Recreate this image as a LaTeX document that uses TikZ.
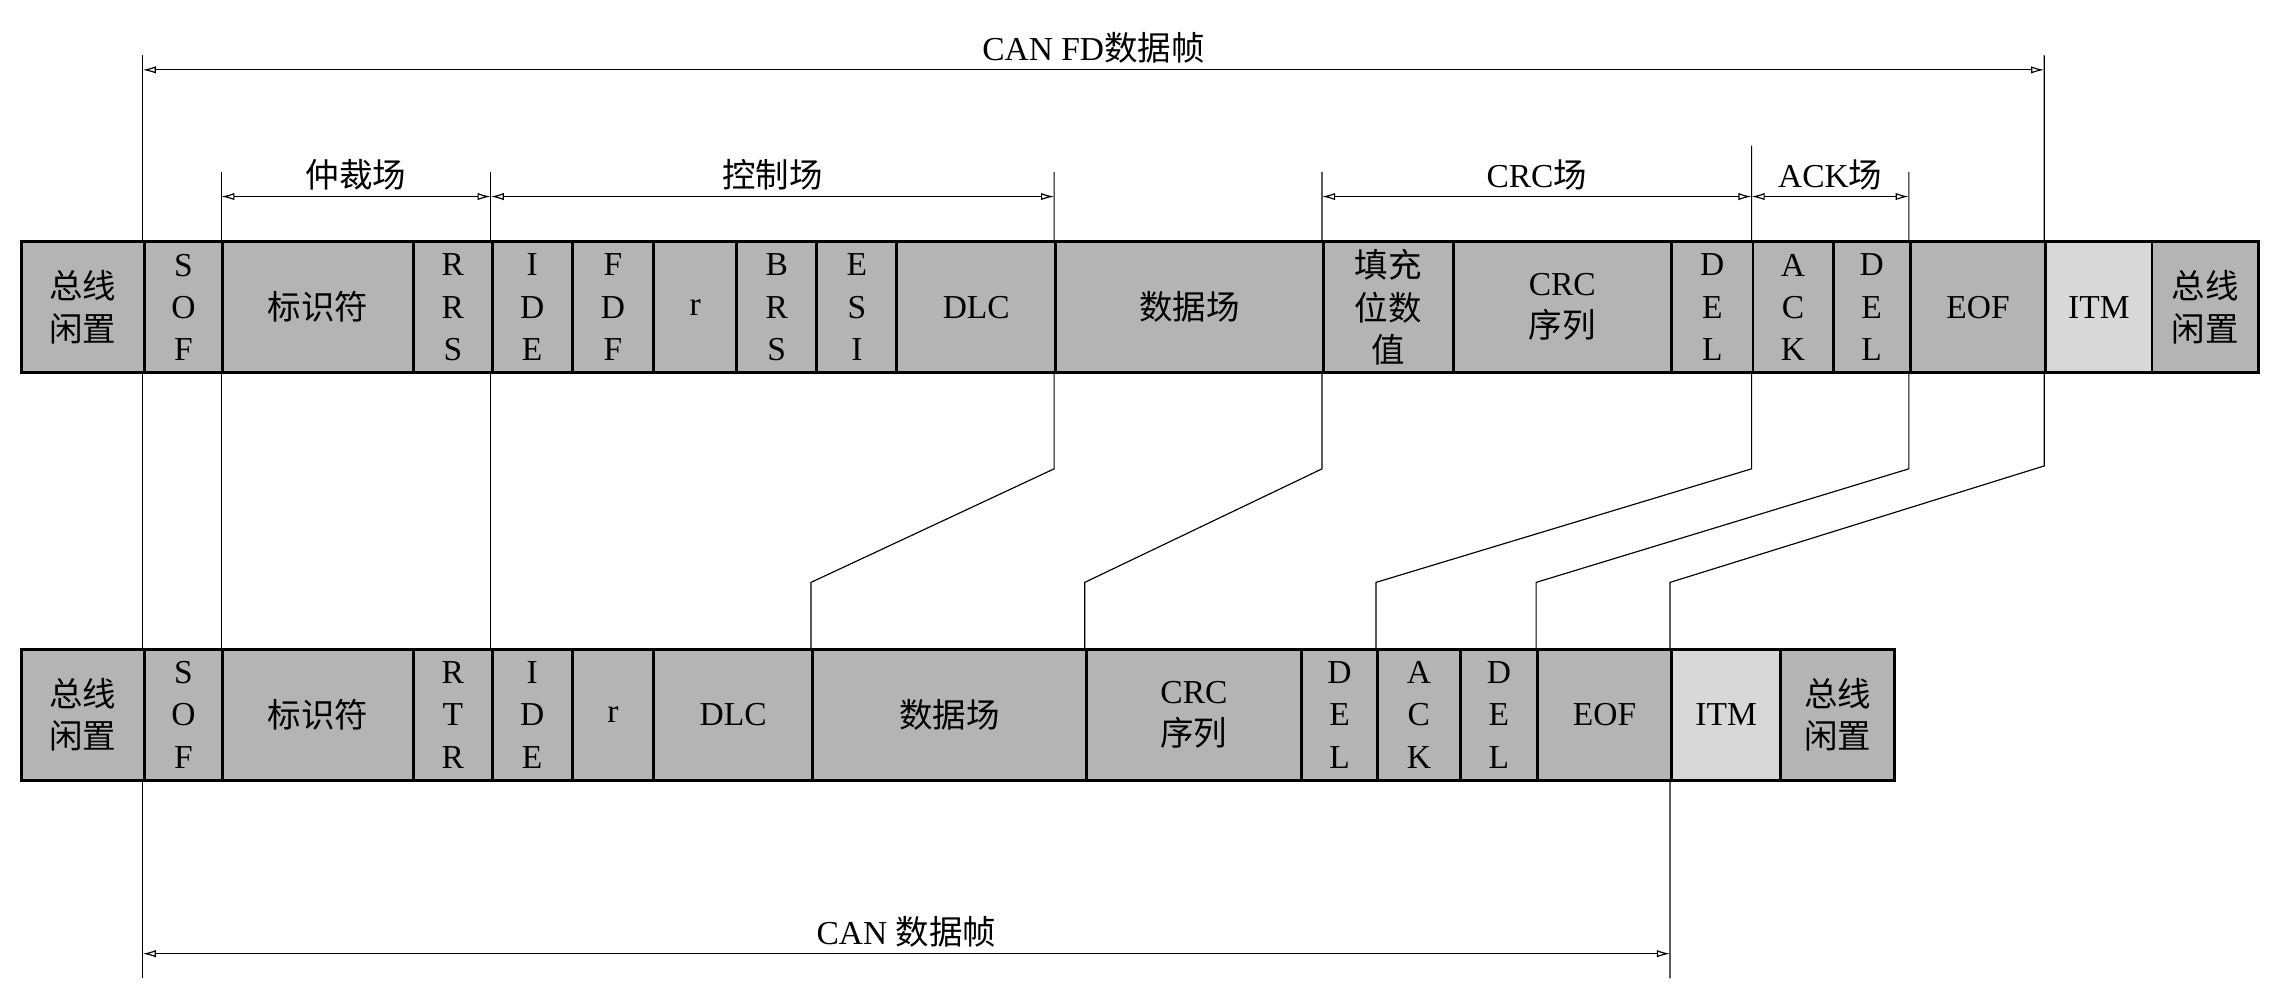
\documentclass[tikz,border=0pt]{standalone}
\usepackage{fontspec}
\setmainfont{Liberation Serif}
\newfontfamily\cjk{Noto Sans CJK SC}
\usetikzlibrary{arrows.meta}
\definecolor{cellgray}{HTML}{B4B4B4}
\definecolor{itmgray}{HTML}{D8D8D8}
\tikzset{
 cellbox/.style={draw=black,line width=2pt,minimum height=90pt,inner sep=0pt,align=center,font=\fontsize{23}{29}\selectfont},
 thin line/.style={line width=0.8pt},
 dim/.style={line width=0.8pt,{Latex[length=9pt,width=5pt,open]}-{Latex[length=9pt,width=5pt,open]}},
 lbl/.style={font=\fontsize{23}{28}\selectfont,inner sep=1pt}
}
\newcommand\mycell[6]{\node[cellbox,fill=#6,minimum width={(#3-#2)*1pt},anchor=north west] (#1) at (#2,#4) {#5};}
\begin{document}
\begin{tikzpicture}[x=1pt,y=-1pt]
\useasboundingbox[fill=white] (0,0) rectangle (1568,676);
% guide coordinates
\coordinate (t98) at (98,38); \coordinate (b98) at (98,672);
\coordinate (t1404) at (1404,38); \coordinate (k1404) at (1404,320); \coordinate (m1147) at (1147,400); \coordinate (b1147) at (1147,672);
\coordinate (t152) at (152,118); \coordinate (b152) at (152,445);
\coordinate (t337) at (337,118); \coordinate (b337) at (337,445);
\coordinate (t724) at (724,118); \coordinate (k724) at (724,322); \coordinate (m557) at (557,400); \coordinate (b557) at (557,445);
\coordinate (t908) at (908,118); \coordinate (k908) at (908,322); \coordinate (m745) at (745,400); \coordinate (b745) at (745,445);
\coordinate (t1203) at (1203,100); \coordinate (k1203) at (1203,322); \coordinate (m945) at (945,400); \coordinate (b945) at (945,445);
\coordinate (t1311) at (1311,118); \coordinate (k1311) at (1311,322); \coordinate (m1055) at (1055,400); \coordinate (b1055) at (1055,445);
\draw[thin line] (t98)--(b98);
\draw[thin line] (t1404)--(k1404)--(m1147)--(b1147);
\draw[thin line] (t152)--(b152);
\draw[thin line] (t337)--(b337);
\draw[thin line] (t724)--(k724)--(m557)--(b557);
\draw[thin line] (t908)--(k908)--(m745)--(b745);
\draw[thin line] (t1203)--(k1203)--(m945)--(b945);
\draw[thin line] (t1311)--(k1311)--(m1055)--(b1055);
% dimension arrows
\coordinate (a1) at (98,48); \coordinate (a2) at (1404,48);
\draw[dim] (a1)--(a2) node[lbl,midway,above=3pt] {CAN FD{\cjk 数据帧}};
\coordinate (c1) at (152,135); \coordinate (c2) at (337,135);
\draw[dim] (c1)--(c2) node[lbl,midway,above=3pt] {\cjk 仲裁场};
\coordinate (d1) at (337,135); \coordinate (d2) at (724,135);
\draw[dim] (d1)--(d2) node[lbl,midway,above=3pt] {\cjk 控制场};
\coordinate (e1) at (908,135); \coordinate (e2) at (1203,135);
\draw[dim] (e1)--(e2) node[lbl,midway,above=3pt] {CRC{\cjk 场}};
\coordinate (f1) at (1203,135); \coordinate (f2) at (1311,135);
\draw[dim] (f1)--(f2) node[lbl,midway,above=3pt] {ACK{\cjk 场}};
\coordinate (g1) at (98,655); \coordinate (g2) at (1147,655);
\draw[dim] (g1)--(g2) node[lbl,midway,above=3pt] {CAN {\cjk 数据帧}};
% top row
\mycell{a01}{14}{98}{165}{\cjk 总线\\\cjk 闲置}{cellgray}
\mycell{a02}{98}{152}{165}{S\\O\\F}{cellgray}
\mycell{a03}{152}{283}{165}{\cjk 标识符}{cellgray}
\mycell{a04}{283}{337}{165}{R\\R\\S}{cellgray}
\mycell{a05}{337}{392}{165}{I\\D\\E}{cellgray}
\mycell{a06}{392}{448}{165}{F\\D\\F}{cellgray}
\mycell{a07}{448}{505}{165}{r}{cellgray}
\mycell{a08}{505}{560}{165}{B\\R\\S}{cellgray}
\mycell{a09}{560}{615}{165}{E\\S\\I}{cellgray}
\mycell{a10}{615}{724}{165}{DLC}{cellgray}
\mycell{a11}{724}{908}{165}{\cjk 数据场}{cellgray}
\mycell{a12}{908}{997}{165}{\cjk 填充\\\cjk 位数\\\cjk 值}{cellgray}
\mycell{a13}{997}{1147}{165}{CRC\\\cjk 序列}{cellgray}
\mycell{a14}{1147}{1203}{165}{D\\E\\L}{cellgray}
\mycell{a15}{1203}{1258}{165}{A\\C\\K}{cellgray}
\mycell{a16}{1258}{1311}{165}{D\\E\\L}{cellgray}
\mycell{a17}{1311}{1404}{165}{EOF}{cellgray}
\mycell{a18}{1404}{1477}{165}{ITM}{itmgray}
\mycell{a19}{1477}{1550}{165}{\cjk 总线\\\cjk 闲置}{cellgray}
% bottom row
\mycell{b01}{14}{98}{445}{\cjk 总线\\\cjk 闲置}{cellgray}
\mycell{b02}{98}{152}{445}{S\\O\\F}{cellgray}
\mycell{b03}{152}{283}{445}{\cjk 标识符}{cellgray}
\mycell{b04}{283}{337}{445}{R\\T\\R}{cellgray}
\mycell{b05}{337}{392}{445}{I\\D\\E}{cellgray}
\mycell{b06}{392}{448}{445}{r}{cellgray}
\mycell{b07}{448}{557}{445}{DLC}{cellgray}
\mycell{b08}{557}{745}{445}{\cjk 数据场}{cellgray}
\mycell{b09}{745}{893}{445}{CRC\\\cjk 序列}{cellgray}
\mycell{b10}{893}{945}{445}{D\\E\\L}{cellgray}
\mycell{b11}{945}{1002}{445}{A\\C\\K}{cellgray}
\mycell{b12}{1002}{1055}{445}{D\\E\\L}{cellgray}
\mycell{b13}{1055}{1147}{445}{EOF}{cellgray}
\mycell{b14}{1147}{1222}{445}{ITM}{itmgray}
\mycell{b15}{1222}{1300}{445}{\cjk 总线\\\cjk 闲置}{cellgray}
\end{tikzpicture}
\end{document}
